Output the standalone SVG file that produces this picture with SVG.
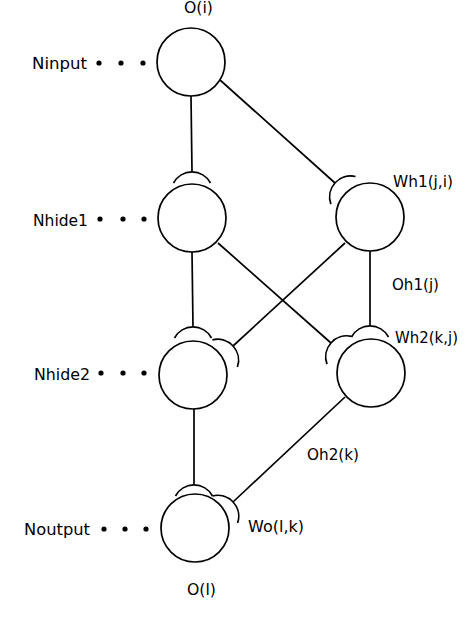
<svg xmlns="http://www.w3.org/2000/svg" xmlns:xlink="http://www.w3.org/1999/xlink" width="474" height="622" viewBox="0 0 474 622">
<style>
.node{fill:#fff;stroke:#000;stroke-width:1.7}
.edge{fill:none;stroke:#000;stroke-width:1.7}
.dot{fill:#000}
text{font-family:"DejaVu Sans","Liberation Sans",sans-serif;font-size:15px;fill:#000}
</style>
<defs>
<path id="syn" class="edge" d="M-18.5,11 A21,21 0 0 1 18.5,11"/>
</defs>
<rect width="474" height="622" fill="#fff"/>
<g id="connectors">
<line class="edge" x1="191" y1="96" x2="192" y2="172"/>
<use xlink:href="#syn" transform="translate(192,172)"/>
<line class="edge" x1="220" y1="80" x2="335" y2="183"/>
<use xlink:href="#syn" transform="translate(335,183) rotate(-48.2)"/>
<line class="edge" x1="192" y1="252" x2="193" y2="327"/>
<use xlink:href="#syn" transform="translate(193,327)"/>
<line class="edge" x1="345" y1="243" x2="233" y2="346"/>
<use xlink:href="#syn" transform="translate(233,346) rotate(47.4)"/>
<line class="edge" x1="218" y1="243" x2="331" y2="343"/>
<use xlink:href="#syn" transform="translate(331,343) rotate(-48.5)"/>
<line class="edge" x1="370" y1="251" x2="370" y2="326"/>
<use xlink:href="#syn" transform="translate(370,326)"/>
<line class="edge" x1="194" y1="408" x2="194" y2="485"/>
<use xlink:href="#syn" transform="translate(194,485)"/>
<line class="edge" x1="345" y1="397" x2="233" y2="502"/>
<use xlink:href="#syn" transform="translate(233,502) rotate(46.9)"/>
<text x="393" y="187" textLength="60" lengthAdjust="spacingAndGlyphs">Wh1(j,i)</text>
<text x="392" y="290" textLength="47" lengthAdjust="spacingAndGlyphs">Oh1(j)</text>
<text x="395" y="343" textLength="63" lengthAdjust="spacingAndGlyphs">Wh2(k,j)</text>
<text x="307" y="460" textLength="52" lengthAdjust="spacingAndGlyphs">Oh2(k)</text>
<text x="248" y="532" textLength="56" lengthAdjust="spacingAndGlyphs">Wo(l,k)</text>
</g>
<g id="input">
<circle class="node" cx="191" cy="62" r="34"/>
<text x="184" y="13" textLength="29" lengthAdjust="spacingAndGlyphs">O(i)</text>
<text x="32" y="69" textLength="55" lengthAdjust="spacingAndGlyphs">Ninput</text>
<circle class="dot" cx="99" cy="63" r="2.6"/>
<circle class="dot" cx="121" cy="63" r="2.6"/>
<circle class="dot" cx="143" cy="63" r="2.6"/>
</g>
<g id="hide1-left">
<circle class="node" cx="192" cy="218" r="34"/>
<text x="33" y="226" textLength="55" lengthAdjust="spacingAndGlyphs">Nhide1</text>
<circle class="dot" cx="100" cy="219" r="2.6"/>
<circle class="dot" cx="123" cy="219" r="2.6"/>
<circle class="dot" cx="144" cy="219" r="2.6"/>
</g>
<g id="hide1-right">
<circle class="node" cx="370" cy="217" r="34"/>
</g>
<g id="hide2-left">
<circle class="node" cx="193" cy="375" r="34"/>
<text x="34" y="380" textLength="56" lengthAdjust="spacingAndGlyphs">Nhide2</text>
<circle class="dot" cx="101" cy="373" r="2.6"/>
<circle class="dot" cx="123" cy="373" r="2.6"/>
<circle class="dot" cx="144" cy="373" r="2.6"/>
</g>
<g id="hide2-right">
<circle class="node" cx="371" cy="373" r="34"/>
</g>
<g id="output">
<circle class="node" cx="195" cy="528" r="34"/>
<text x="24" y="535" textLength="66" lengthAdjust="spacingAndGlyphs">Noutput</text>
<circle class="dot" cx="104" cy="529" r="2.6"/>
<circle class="dot" cx="125" cy="529" r="2.6"/>
<circle class="dot" cx="146" cy="529" r="2.6"/>
<text x="187" y="595" textLength="29" lengthAdjust="spacingAndGlyphs">O(l)</text>
</g>
</svg>
